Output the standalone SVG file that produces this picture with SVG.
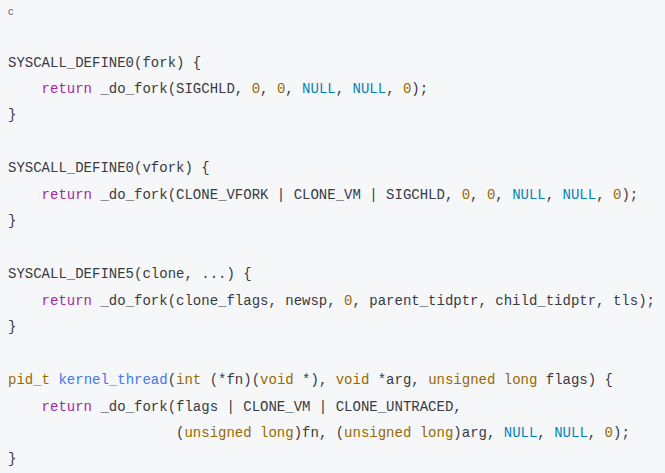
<svg xmlns="http://www.w3.org/2000/svg" width="665" height="473" viewBox="0 0 665 473">
<style>
text{font-family:"Liberation Mono","DejaVu Sans Mono",monospace;font-size:14px;fill:#383a42;white-space:pre}
.k{fill:#a626a4}.n{fill:#986801}.c{fill:#0184bc}.f{fill:#4078f2}
.lang{font-family:"Liberation Sans",sans-serif;font-size:11px;fill:#666}
</style>
<rect width="665" height="473" fill="#f6f7f9"/>
<text class="lang" x="8" y="15">c</text>
<g id="code" xml:space="preserve">
<text x="8" y="67">SYSCALL_DEFINE0(fork) {</text>
<text x="8" y="93">    <tspan class="k">return</tspan> _do_fork(SIGCHLD, <tspan class="n">0</tspan>, <tspan class="n">0</tspan>, <tspan class="c">NULL</tspan>, <tspan class="c">NULL</tspan>, <tspan class="n">0</tspan>);</text>
<text x="8" y="119">}</text>
<text x="8" y="172">SYSCALL_DEFINE0(vfork) {</text>
<text x="8" y="199">    <tspan class="k">return</tspan> _do_fork(CLONE_VFORK | CLONE_VM | SIGCHLD, <tspan class="n">0</tspan>, <tspan class="n">0</tspan>, <tspan class="c">NULL</tspan>, <tspan class="c">NULL</tspan>, <tspan class="n">0</tspan>);</text>
<text x="8" y="225">}</text>
<text x="8" y="278">SYSCALL_DEFINE5(clone, ...) {</text>
<text x="8" y="305">    <tspan class="k">return</tspan> _do_fork(clone_flags, newsp, <tspan class="n">0</tspan>, parent_tidptr, child_tidptr, tls);</text>
<text x="8" y="331">}</text>
<text x="8" y="384"><tspan class="n">pid_t</tspan> <tspan class="f">kernel_thread</tspan>(<tspan class="n">int</tspan> (*fn)(<tspan class="n">void</tspan> *), <tspan class="n">void</tspan> *arg, <tspan class="n">unsigned</tspan> <tspan class="n">long</tspan> flags) {</text>
<text x="8" y="411">    <tspan class="k">return</tspan> _do_fork(flags | CLONE_VM | CLONE_UNTRACED,</text>
<text x="8" y="437">                    (<tspan class="n">unsigned</tspan> <tspan class="n">long</tspan>)fn, (<tspan class="n">unsigned</tspan> <tspan class="n">long</tspan>)arg, <tspan class="c">NULL</tspan>, <tspan class="c">NULL</tspan>, <tspan class="n">0</tspan>);</text>
<text x="8" y="463">}</text>
</g>
</svg>
